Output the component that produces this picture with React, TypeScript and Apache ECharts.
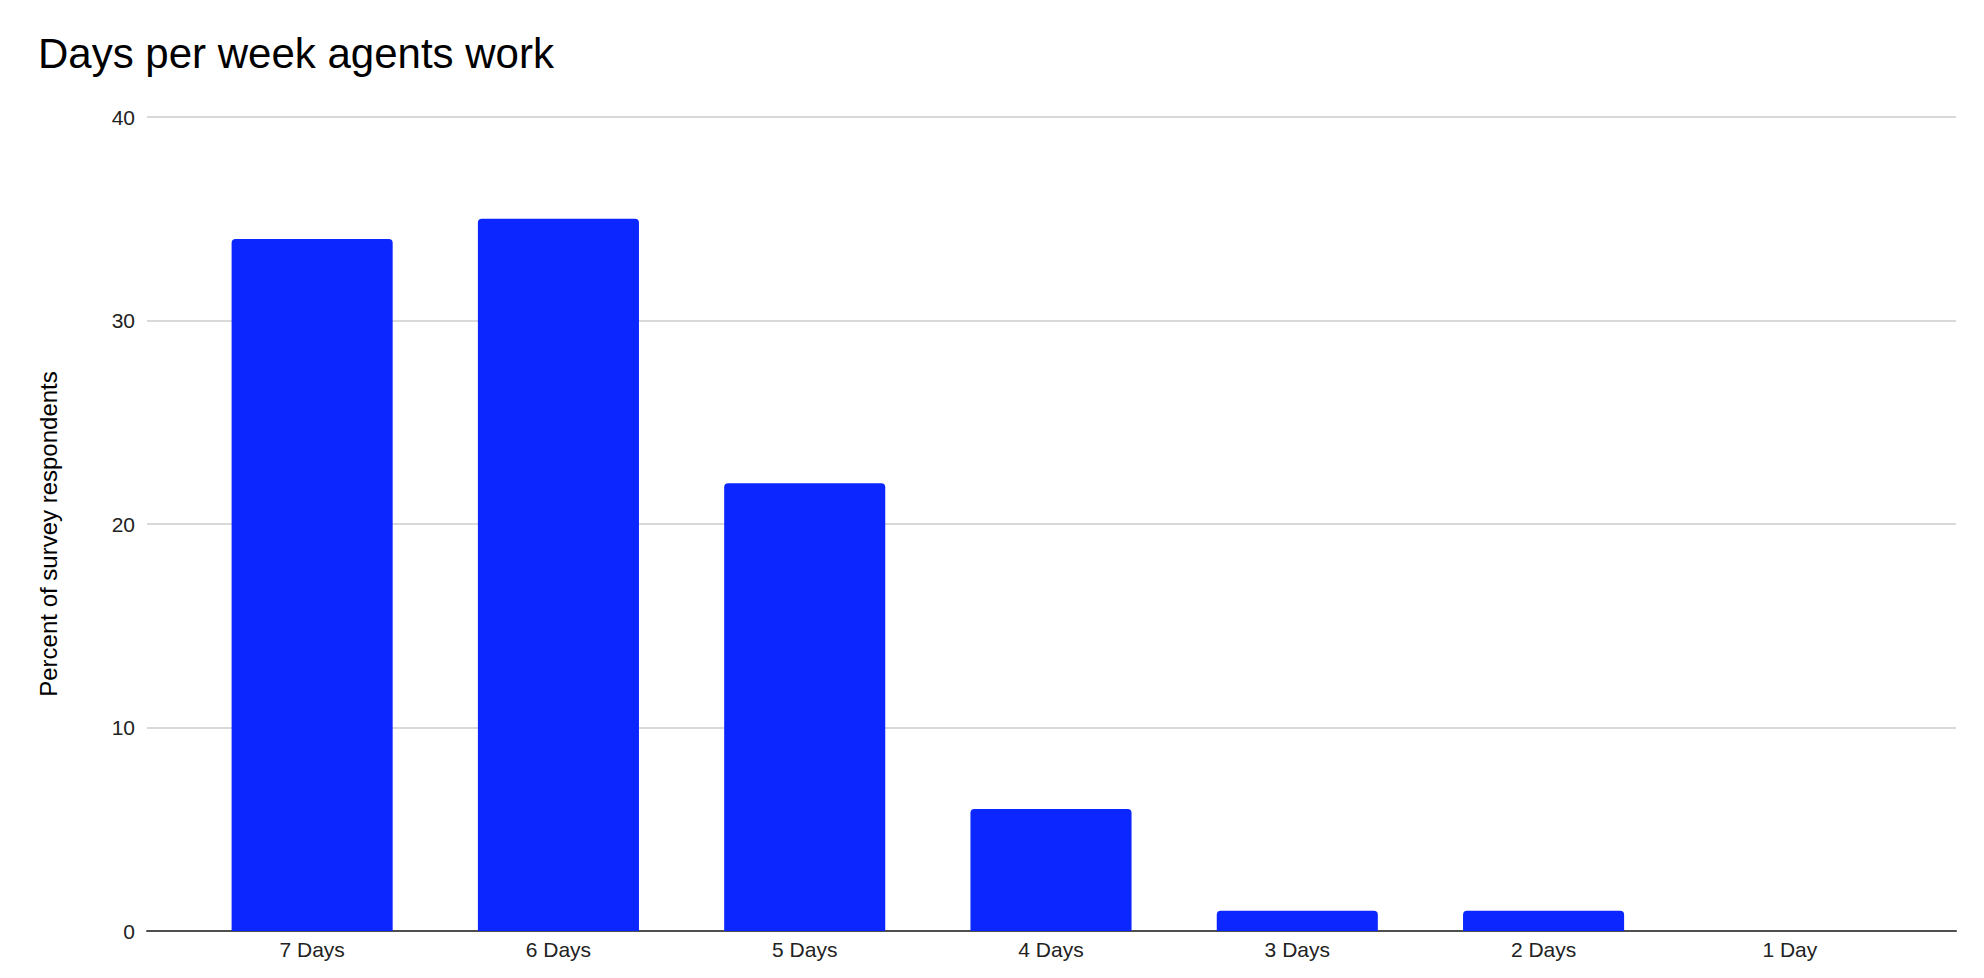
import React, { useEffect, useRef } from "react";
import * as echarts from "echarts";

const categories = ["7 Days", "6 Days", "5 Days", "4 Days", "3 Days", "2 Days", "1 Day"];
const percentValues = [34, 35, 22, 6, 1, 1, 0];
const yTicks = [0, 10, 20, 30, 40];

const FONT = "Arial, 'Liberation Sans', Helvetica, sans-serif";

export default function App() {
  const ref = useRef<HTMLDivElement>(null);
  useEffect(() => {
    if (!ref.current) return;
    const chart = echarts.init(ref.current, null, { renderer: "svg" });
    const yMin = yTicks[0];
    const yMax = yTicks[yTicks.length - 1];
    const yStep = yTicks[1] - yTicks[0];
    chart.setOption({
      animation: false,
      backgroundColor: "#ffffff",
      title: {
        text: "Days per week agents work",
        left: 25,
        top: 19,
        textStyle: { fontFamily: FONT, fontSize: 42, fontWeight: "normal", color: "#000000" },
      },
      grid: [
        { left: 139, right: 20, top: 109, bottom: 39, containLabel: false },
        { left: 181, right: 63, top: 109, bottom: 39, containLabel: false },
      ],
      xAxis: [
        {
          type: "category",
          gridIndex: 0,
          data: categories,
          axisLine: { lineStyle: { color: "#4f4f4f", width: 2 } },
          axisTick: { show: false },
          axisLabel: { show: false },
          splitLine: { show: false },
        },
        {
          type: "category",
          gridIndex: 1,
          data: categories,
          axisLine: { show: false },
          axisTick: { show: false },
          axisLabel: { fontFamily: FONT, fontSize: 21, color: "#222222", margin: 8 },
          splitLine: { show: false },
        },
      ],
      yAxis: [
        {
          type: "value",
          gridIndex: 0,
          min: yMin,
          max: yMax,
          interval: yStep,
          name: "Percent of survey respondents",
          nameLocation: "middle",
          nameGap: 87,
          nameTextStyle: {
            fontFamily: FONT,
            fontSize: 24,
            color: "#000000",
            padding: [0, 20, 0, 0],
          },
          axisLine: { show: false },
          axisTick: { show: false },
          axisLabel: { fontFamily: FONT, fontSize: 21, color: "#222222", margin: 12 },
          splitLine: { lineStyle: { color: "#d9d9d9", width: 2 } },
        },
        {
          type: "value",
          gridIndex: 1,
          min: yMin,
          max: yMax,
          interval: yStep,
          axisLine: { show: false },
          axisTick: { show: false },
          axisLabel: { show: false },
          splitLine: { show: false },
        },
      ],
      series: [
        {
          type: "bar",
          xAxisIndex: 1,
          yAxisIndex: 1,
          data: percentValues,
          barCategoryGap: "34.6%",
          itemStyle: { color: "#0c26ff", borderRadius: [4, 4, 0, 0] },
        },
      ],
    });
    return () => chart.dispose();
  }, []);
  return <div ref={ref} style={{ width: 1968, height: 962 }} />;
}
